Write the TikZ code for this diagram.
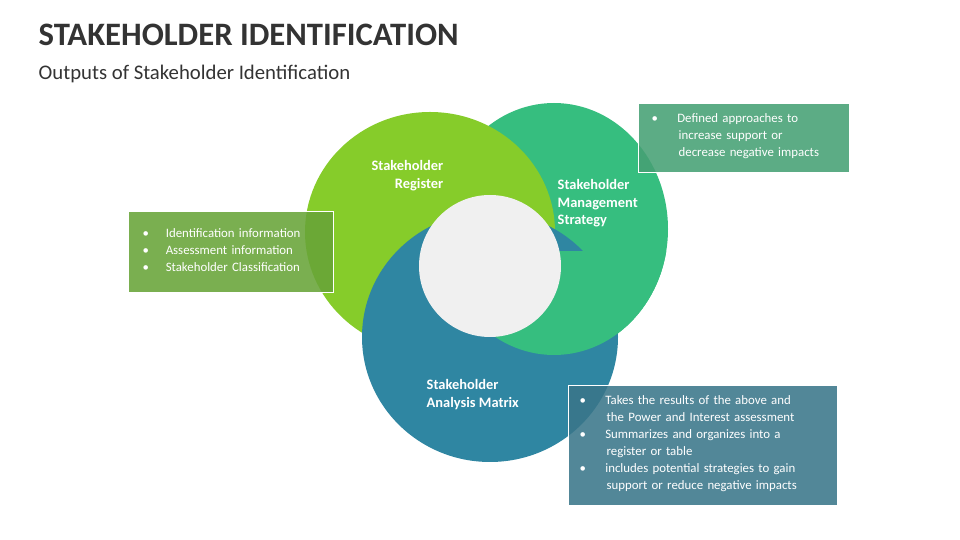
\documentclass[tikz,border=0pt]{standalone}
\usepackage{fontspec}
\setmainfont{Carlito}
\begin{document}
\begin{tikzpicture}[x=0.01cm,y=-0.01cm,
  lbl/.style={text=white,font=\fontsize{4.1pt}{4.9pt}\selectfont\bfseries,align=left,anchor=north west,inner sep=0},
  box/.style={draw=white,line width=0.3pt,fill opacity=0.88,text opacity=1,inner sep=0,anchor=north west},
  btxt/.style={text=white,font=\fontsize{3.65pt}{4.8pt}\selectfont,align=left,anchor=north west,inner sep=0,text width=#1}]
\useasboundingbox (0,0) rectangle (960,540);
\definecolor{lime}{HTML}{86CC2A}
\definecolor{tgreen}{HTML}{36BE7F}
\definecolor{tblue}{HTML}{2F86A2}
\node[anchor=west,inner sep=0,font=\fontsize{9.3pt}{10pt}\selectfont\bfseries,text=black!80] (title) at (38,35) {STAKEHOLDER IDENTIFICATION};
\node[anchor=west,inner sep=0,font=\fontsize{5.9pt}{7pt}\selectfont,text=black!80] (sub) at (38,74) {Outputs of Stakeholder Identification};
% blobs
\fill[tgreen] (554,229) ellipse [x radius=114,y radius=126];
\fill[lime] (430,232) ellipse [x radius=125,y radius=120];
\fill[tblue] (490,337) ellipse [x radius=128,y radius=125];
\begin{scope}
\clip (480,252) rectangle (700,400);
\fill[tgreen] (554,229) ellipse [x radius=114,y radius=126];
\end{scope}
\fill[black!6] (490,266) circle [radius=71];
\node[lbl,align=right,anchor=north east] (reg) at (444,160) {Stakeholder\\Register};
\node[lbl] (mgmt) at (557,179) {Stakeholder\\Management\\Strategy};
\node[lbl] (ana) at (426,379) {Stakeholder\\Analysis Matrix};
% boxes
\node[box,fill={rgb,255:red,104;green,164;blue,56},minimum width=205*0.01cm,minimum height=81*0.01cm] (b1) at (128,211) {};
\node[btxt=190*0.01cm] (t1) at (142,228) {\textbullet\hspace{1.3em}Identification information\\\textbullet\hspace{1.3em}Assessment information\\\textbullet\hspace{1.3em}Stakeholder Classification};
\node[box,fill={rgb,255:red,70;green,160;blue,116},minimum width=211*0.01cm,minimum height=69*0.01cm] (b2) at (638,103) {};
\node[btxt=190*0.01cm] (t2) at (651,113) {\textbullet\hspace{1.5em}Defined approaches to\\\hspace*{2.1em}increase support or\\\hspace*{2.1em}decrease negative impacts};
\node[box,fill={rgb,255:red,58;green,118;blue,138},minimum width=269*0.01cm,minimum height=120*0.01cm] (b3) at (568,385) {};
\node[btxt=260*0.01cm] (t3) at (579,395) {\textbullet\hspace{1.5em}Takes the results of the above and\\\hspace*{2.1em}the Power and Interest assessment\\\textbullet\hspace{1.5em}Summarizes and organizes into a\\\hspace*{2.1em}register or table\\\textbullet\hspace{1.5em}includes potential strategies to gain\\\hspace*{2.1em}support or reduce negative impacts};
\end{tikzpicture}
\end{document}
